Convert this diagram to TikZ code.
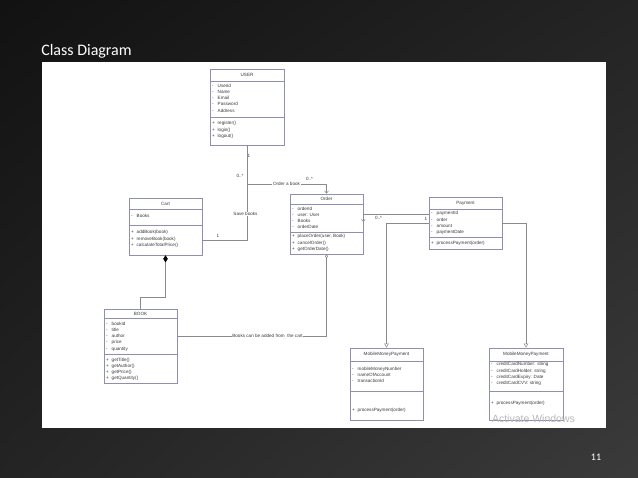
\documentclass[tikz,border=0pt]{standalone}
\usepackage{fontspec}
\setmainfont{Liberation Sans}
\newfontfamily\slidefont{Carlito}
\usetikzlibrary{arrows.meta,shadings}
\definecolor{boxborder}{HTML}{8F8FAF}
\definecolor{wire}{HTML}{8A8A8A}
\definecolor{ink}{HTML}{3A3A3A}
\newcommand{\dsh}{\makebox[5.5pt][l]{-}}
\newcommand{\pls}{\makebox[5.5pt][l]{+}}
\tikzset{
  classbox/.style={draw=boxborder, line width=0.6pt, fill=white, inner sep=0},
  classsep/.style={draw=boxborder, line width=0.6pt},
  classhead/.style={font=\fontsize{4.6}{6}\selectfont, text=ink, inner sep=0},
  members/.style={font=\fontsize{4.6}{6.2}\selectfont, text=ink, align=left,
    anchor=west, inner sep=0},
  wirelabel/.style={font=\fontsize{4.6}{6}\selectfont, text=ink, inner sep=0.8pt},
  assoc/.style={draw=wire, line width=0.5pt},
}
\begin{document}
\begin{tikzpicture}[x=1pt, y=-1pt]
  \useasboundingbox (0,0) rectangle (638,478);
  % slide
  \shade[upper left=black!93, upper right=black!86, lower left=black!86,
    lower right=black!77] (0,0) rectangle (638,478);
  \node[text=white, font=\slidefont\fontsize{16}{19}\selectfont, inner sep=0]
    (title) at (86.5,51) {Class Diagram};
  \node[text=white, font=\slidefont\fontsize{10}{12}\selectfont, inner sep=0]
    (pageno) at (596,457) {11};
  \node[fill=white, minimum width=564, minimum height=366, inner sep=0]
    (panel) at (324,245) {};

  % classes
  \node[classbox, minimum width=74, minimum height=76] (user) at (247,107) {};
  \node[classbox, minimum width=73, minimum height=57] (cart) at (165.5,226.5) {};
  \node[classbox, minimum width=73, minimum height=60] (order) at (326.5,224) {};
  \node[classbox, minimum width=73, minimum height=52] (payment) at (465.5,223) {};
  \node[classbox, minimum width=73, minimum height=74] (book) at (140.5,346) {};
  \node[classbox, minimum width=73, minimum height=72] (mobile) at (386.5,384) {};
  \node[classbox, minimum width=74, minimum height=72] (card) at (526,384) {};

  \draw[classsep] (210,81) -- (284,81) (210,117) -- (284,117);
  \draw[classsep] (129,209) -- (202,209) (129,225) -- (202,225);
  \draw[classsep] (290,204) -- (363,204) (290,232) -- (363,232);
  \draw[classsep] (429,209) -- (502,209) (429,237) -- (502,237);
  \draw[classsep] (104,318) -- (177,318) (104,354) -- (177,354);
  \draw[classsep] (350,361) -- (423,361) (350,391) -- (423,391);
  \draw[classsep] (489,361) -- (563,361) (489,391) -- (563,391);

  % USER
  \node[classhead] (user-h) at (247,75) {USER};
  \node[members] (user-a) at (212,98)
    {\dsh Userid\\\dsh Name\\\dsh Email\\\dsh Password\\\dsh Address};
  \node[members] (user-m) at (212,130)
    {\pls register()\\\pls login()\\\pls logout()};
  % Cart
  \node[classhead] (cart-h) at (165.5,203.5) {Cart};
  \node[members] (cart-a) at (131,216) {\dsh Books};
  \node[members] (cart-m) at (131,239)
    {\pls addBook(book)\\\pls removeBook(book)\\\pls calculateTotalPrice()};
  % Order
  \node[classhead] (order-h) at (326.5,199) {Order};
  \node[members] (order-a) at (292,218)
    {\dsh orderId\\\dsh user: User\\\dsh Books\\\dsh orderDate};
  \node[members] (order-m) at (292,243)
    {\pls placeOrder(user, Book)\\\pls cancelOrder()\\\pls getOrderDate()};
  % Payment
  \node[classhead] (payment-h) at (465.5,203) {Payment};
  \node[members] (payment-a) at (431,223)
    {\dsh paymentId\\\dsh order\\\dsh amount\\\dsh paymentDate};
  \node[members] (payment-m) at (431,243) {\pls processPayment(order)};
  % BOOK
  \node[classhead] (book-h) at (140.5,313.5) {BOOK};
  \node[members] (book-a) at (106,336.5)
    {\dsh bookId\\\dsh title\\\dsh author\\\dsh price\\\dsh quantity};
  \node[members] (book-m) at (106,369.5)
    {\pls getTitle()\\\pls getAuthor()\\\pls getPrice()\\\pls getQuantity()};
  % MobileMoneyPayment
  \node[classhead] (mobile-h) at (386.5,354.5) {MobileMoneyPayment};
  \node[members] (mobile-a) at (352,375)
    {\dsh mobileMoneyNumber\\\dsh nameOfAccount\\\dsh transactionId};
  \node[members] (mobile-m) at (352,410) {\pls processPayment(order)};
  % card payment
  \node[classhead] (card-h) at (526,354.5) {MobileMoneyPayment};
  \node[members] (card-a) at (491,374)
    {\dsh creditCardNumber: string\\\dsh creditCardHolder: string\\
     \dsh creditCardExpiry: Date\\\dsh creditCardCVV: string};
  \node[members] (card-m) at (491,403) {\pls processPayment(order)};

  % connectors
  \coordinate (orderjoin) at (247,184);
  \coordinate (savejoin) at (247,240);
  \coordinate (cartbend) at (165.5,297);
  \coordinate (bookjoin) at (177,336);
  \coordinate (payjoin) at (429,214);

  \draw[assoc] (user.south) -- (savejoin) -- (cart.east |- savejoin);
  \draw[assoc, -{Straight Barb[length=2.5pt,width=4pt]}] (orderjoin) -| (order.north);
  \draw[assoc, {Diamond[length=7pt,width=4.5pt,color=black]}-]
    (cart.south) -- (cartbend) -| (book.north);
  \draw[assoc, {Diamond[open,length=4pt,width=3pt]}-] (order.south) |- (bookjoin);
  \draw[assoc, -{Straight Barb[length=2.5pt,width=4pt]}]
    (payjoin) -- (order.east |- payjoin) -- ++(0,8);
  \draw[assoc, -{Triangle[open,length=4pt,width=4.5pt]}] (payment.west) -| (mobile.north);
  \draw[assoc, -{Triangle[open,length=4pt,width=4.5pt]}] (payment.east) -| (card.north);

  \node[wirelabel] (user-one) at (249,156) {1};
  \node[wirelabel] (user-many) at (240,175.5) {0..*};
  \node[wirelabel, fill=white] (orderbook) at (286.5,184) {Order a book};
  \node[wirelabel] (order-many) at (309.5,179) {0..*};
  \node[wirelabel, fill=white] (savebooks) at (245.5,214) {Save books};
  \node[wirelabel] (cart-one) at (218,235.5) {1};
  \node[wirelabel, fill=white] (addedlbl) at (267.5,336) {Books can be added from\ \ the cart};
  \node[wirelabel] (pay-many) at (378.5,217.5) {0..*};
  \node[wirelabel] (pay-one) at (426,218.5) {1};

  \node[text=black!28, font=\fontsize{10.5}{12}\selectfont, inner sep=0]
    (watermark) at (533.5,418.5) {Activate Windows};
\end{tikzpicture}
\end{document}
